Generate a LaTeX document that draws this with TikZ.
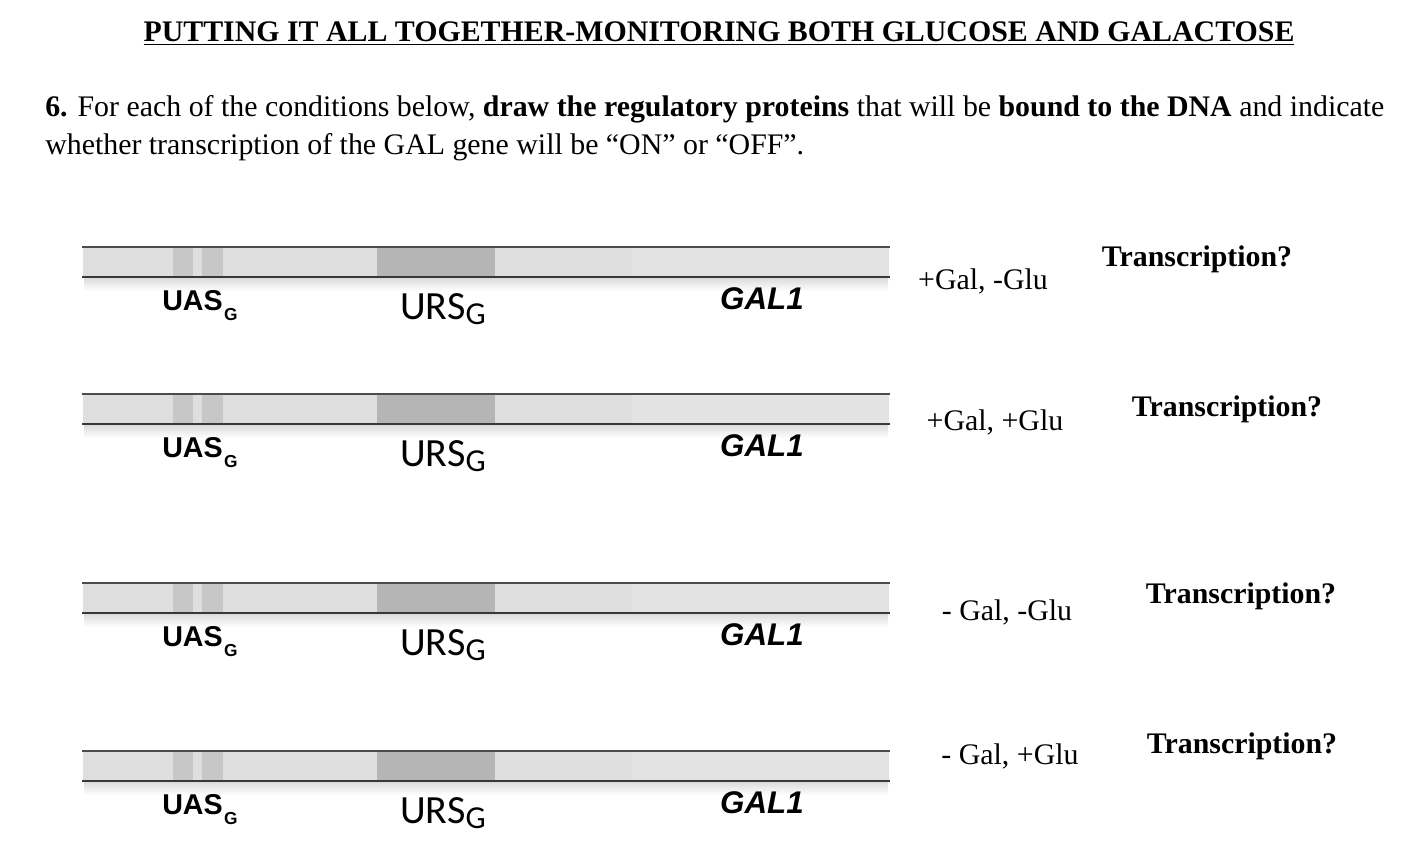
\documentclass[tikz,border=0pt]{standalone}
\usepackage{fontspec}
\setmainfont{Liberation Serif}
\newfontfamily\arialfont{Liberation Sans}
\newfontfamily\calibrifont{Carlito}
\begin{document}
\begin{tikzpicture}[x=0.75pt,y=0.75pt,yscale=-1,xscale=1,
  dnafill/.style={fill=black!13,draw=none},
  uasband/.style={fill=black!22,draw=none},
  ursband/.style={fill=black!29,draw=none},
  dnaedge/.style={draw=black!70,line width=1.3pt},
  uaslabel/.style={font=\arialfont\bfseries\fontsize{21.5}{24}\selectfont,inner sep=0.75pt},
  urslabel/.style={font=\calibrifont\fontsize{30}{33}\selectfont,inner sep=0.75pt},
  genelabel/.style={font=\arialfont\bfseries\itshape\fontsize{23.5}{26}\selectfont,inner sep=0.75pt},
  condlabel/.style={font=\fontsize{22.4}{26}\selectfont,inner sep=0.75pt},
  asklabel/.style={font=\bfseries\fontsize{22.4}{26}\selectfont,inner sep=0.75pt}]
\useasboundingbox (0,0) rectangle (1412,856);

% Title
\node (title) [anchor=base,inner sep=0pt,font=\bfseries\fontsize{22.4}{26}\selectfont] at (719,42) {\underline{PUTTING IT ALL TOGETHER-MONITORING BOTH GLUCOSE AND GALACTOSE}};

% Question text
\node (qline1) [anchor=base west,inner sep=0pt,font=\fontsize{22.4}{26}\selectfont] at (45,116) {\textbf{6.} For each of the conditions below, \textbf{draw the regulatory proteins} that will be \textbf{bound to the DNA} and indicate};
\node (qline2) [anchor=base west,inner sep=0pt,font=\fontsize{22.4}{26}\selectfont] at (45,154) {whether transcription of the GAL gene will be ``ON'' or ``OFF''.};

% DNA rows
\foreach \t/\cx/\cy/\cond/\qx/\qy [count=\i] in {
  247/983/281/{+Gal, -Glu}/1197/259,
  394/995/422/{+Gal, +Glu}/1227/409,
  583/1007/612/{- Gal, -Glu}/1241/596,
  751/1010/756/{- Gal, +Glu}/1242/746}{
  %Shape: shadow under the bar
  \shade [top color=black!14,bottom color=white] (84,\t+31) rectangle (888,\t+44);
  %Shape: bar
  \fill [dnafill] (83,\t) rectangle (632,\t+30);
  \fill [black!11] (632,\t) rectangle (889,\t+30);
  \fill [uasband] (173,\t) rectangle (193,\t+30);
  \fill [uasband] (202,\t) rectangle (223,\t+30);
  \fill [ursband] (377,\t) rectangle (495,\t+30);
  \draw [dnaedge] (82,\t) -- (890,\t);
  \draw [dnaedge,draw=black!78,line width=1.6pt] (82,\t+30) -- (890,\t+30);
  % Text Node
  \node (uas\i) [uaslabel,anchor=base west] at (161,\t+63) {UAS\kern1pt\raisebox{-0.7ex}{\fontsize{13}{14}\selectfont G}};
  \node (urs\i) [urslabel,anchor=base west] at (399,\t+72) {URS\raisebox{-0.3ex}{\fontsize{24}{25}\selectfont G}};
  \node (gal\i) [genelabel,anchor=base] at (762,\t+62) {GAL1};
  \node (cond\i) [condlabel] at (\cx,\cy) {\cond};
  \node (ask\i) [asklabel] at (\qx,\qy) {Transcription?};
}
\end{tikzpicture}
\end{document}
